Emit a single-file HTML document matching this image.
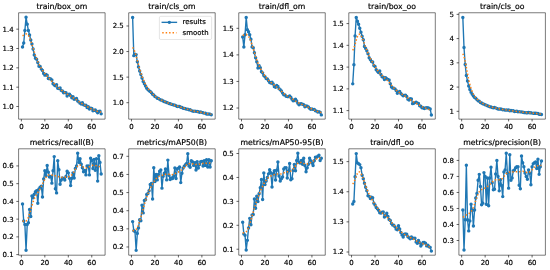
<!DOCTYPE html>
<html lang="en"><head><meta charset="utf-8"><title>results</title>
<style>html,body{margin:0;padding:0;background:#fff;width:550px;height:270px;overflow:hidden}svg{display:block}</style>
</head><body>
<svg width="550" height="270" viewBox="0 0 550 270" style="display:block">
<rect width="550" height="270" fill="#fff"/>
<g font-family="'DejaVu Sans', 'Liberation Sans', sans-serif" fill="#000" text-rendering="geometricPrecision" stroke="#000" stroke-width="0.18" stroke-linejoin="round">
<g>
<polyline points="22.53,47.04 23.71,43.08 24.88,30.52 26.05,17.18 27.23,24.33 28.4,30.52 29.57,34.96 30.75,39.99 31.92,44.05 33.09,49.07 34.27,55.07 35.44,58.16 36.62,59.13 37.79,62.51 38.96,66.24 40.14,66.52 41.31,69.1 42.48,70.45 43.66,73.53 44.83,75.14 46.01,74.51 47.18,75.23 48.35,78.45 49.53,78.41 50.7,78.99 51.87,80.07 53.05,83.71 54.22,85 55.39,85.74 56.57,84.7 57.74,88.27 58.92,88.42 60.09,87.92 61.26,90.38 62.44,90.96 63.61,92.87 64.78,92.47 65.96,92.75 67.13,96.02 68.31,94.5 69.48,94.34 70.65,95.65 71.83,97.67 73,96.67 74.17,99.37 75.35,99.01 76.52,98.38 77.69,101.07 78.87,101.89 80.04,103.15 81.22,104.11 82.39,102.68 83.56,104.74 84.74,105.19 85.91,105.3 87.08,107.54 88.26,106.81 89.43,108.95 90.61,108.14 91.78,108.37 92.95,110.78 94.13,110.31 95.3,109.88 96.47,111.19 97.65,112.73 98.82,111.41 99.99,111.2 101.17,113.87" fill="none" stroke="#1f77b4" stroke-width="1.37" stroke-linejoin="round" stroke-linecap="square"/>
<path d="M22.53,47.04h0M23.71,43.08h0M24.88,30.52h0M26.05,17.18h0M27.23,24.33h0M28.4,30.52h0M29.57,34.96h0M30.75,39.99h0M31.92,44.05h0M33.09,49.07h0M34.27,55.07h0M35.44,58.16h0M36.62,59.13h0M37.79,62.51h0M38.96,66.24h0M40.14,66.52h0M41.31,69.1h0M42.48,70.45h0M43.66,73.53h0M44.83,75.14h0M46.01,74.51h0M47.18,75.23h0M48.35,78.45h0M49.53,78.41h0M50.7,78.99h0M51.87,80.07h0M53.05,83.71h0M54.22,85h0M55.39,85.74h0M56.57,84.7h0M57.74,88.27h0M58.92,88.42h0M60.09,87.92h0M61.26,90.38h0M62.44,90.96h0M63.61,92.87h0M64.78,92.47h0M65.96,92.75h0M67.13,96.02h0M68.31,94.5h0M69.48,94.34h0M70.65,95.65h0M71.83,97.67h0M73,96.67h0M74.17,99.37h0M75.35,99.01h0M76.52,98.38h0M77.69,101.07h0M78.87,101.89h0M80.04,103.15h0M81.22,104.11h0M82.39,102.68h0M83.56,104.74h0M84.74,105.19h0M85.91,105.3h0M87.08,107.54h0M88.26,106.81h0M89.43,108.95h0M90.61,108.14h0M91.78,108.37h0M92.95,110.78h0M94.13,110.31h0M95.3,109.88h0M96.47,111.19h0M97.65,112.73h0M98.82,111.41h0M99.99,111.2h0M101.17,113.87h0" stroke="#1f77b4" stroke-width="3.44" stroke-linecap="round" fill="none"/>
<polyline points="22.53,35.73 23.71,35.17 24.88,34.38 26.05,33.86 27.23,34.11 28.4,35.37 29.57,37.67 30.75,40.79 31.92,44.4 33.09,48.2 34.27,51.92 35.44,55.42 36.62,58.6 37.79,61.46 38.96,64.02 40.14,66.32 41.31,68.38 42.48,70.24 43.66,71.91 44.83,73.43 46.01,74.82 47.18,76.13 48.35,77.4 49.53,78.66 50.7,79.94 51.87,81.22 53.05,82.49 54.22,83.72 55.39,84.9 56.57,86.01 57.74,87.06 58.92,88.06 60.09,89.03 61.26,89.98 62.44,90.89 63.61,91.76 64.78,92.58 65.96,93.35 67.13,94.07 68.31,94.76 69.48,95.44 70.65,96.14 71.83,96.85 73,97.59 74.17,98.35 75.35,99.14 76.52,99.94 77.69,100.76 78.87,101.56 80.04,102.35 81.22,103.1 82.39,103.83 83.56,104.53 84.74,105.22 85.91,105.91 87.08,106.58 88.26,107.24 89.43,107.88 90.61,108.48 91.78,109.05 92.95,109.59 94.13,110.1 95.3,110.57 96.47,111 97.65,111.37 98.82,111.68 99.99,111.9 101.17,112.02" fill="none" stroke="#ff7f0e" stroke-width="1.5" stroke-dasharray="1.45 1.98"/>
<rect x="18.6" y="12.75" width="86.5" height="106.4" fill="none" stroke="#000" stroke-width="0.52"/>
<path d="M21.36,119.15v2.26M44.83,119.15v2.26M68.31,119.15v2.26M91.78,119.15v2.26M18.6,106.49h-2.26M18.6,87.16h-2.26M18.6,67.83h-2.26M18.6,48.49h-2.26M18.6,29.16h-2.26" stroke="#000" stroke-width="0.62" fill="none"/>
<g font-size="6.96">
<text x="21.36" y="129.18" text-anchor="middle">0</text>
<text x="44.83" y="129.18" text-anchor="middle">20</text>
<text x="68.31" y="129.18" text-anchor="middle">40</text>
<text x="91.78" y="129.18" text-anchor="middle">60</text>
<text x="13.6" y="108.96" text-anchor="end">1.0</text>
<text x="13.6" y="89.63" text-anchor="end">1.1</text>
<text x="13.6" y="70.3" text-anchor="end">1.2</text>
<text x="13.6" y="50.97" text-anchor="end">1.3</text>
<text x="13.6" y="31.63" text-anchor="end">1.4</text>
</g>
<text x="61.85" y="8.85" text-anchor="middle" font-size="7.76">train/box_om</text>
</g>
<g>
<polyline points="132.63,17.56 133.81,55.65 134.98,54.11 136.15,54.62 137.33,61.78 138.5,66.9 139.67,70.99 140.85,74.57 142.02,78.05 143.19,81.4 144.37,83.67 145.54,86.05 146.72,88.24 147.89,89.44 149.06,90.84 150.24,91.49 151.41,92.65 152.58,94.18 153.76,95.06 154.93,96.58 156.11,97.12 157.28,98.22 158.45,98.51 159.63,99.36 160.8,99.92 161.97,100.11 163.15,100.98 164.32,101.64 165.49,102.09 166.67,102.47 167.84,102.86 169.02,103.57 170.19,103.7 171.36,104.22 172.54,104.6 173.71,105.09 174.88,105.15 176.06,105.72 177.23,106.45 178.41,106.4 179.58,106.57 180.75,107.34 181.93,107.4 183.1,108.22 184.27,108.37 185.45,108.82 186.62,109.15 187.79,109.21 188.97,109.75 190.14,109.73 191.32,110.39 192.49,111.1 193.66,111.2 194.84,111.13 196.01,111.4 197.18,111.51 198.36,111.77 199.53,112.35 200.71,112.03 201.88,112.38 203.05,112.74 204.23,113.13 205.4,113.22 206.57,113.93 207.75,114.03 208.92,113.99 210.09,114.28 211.27,114.68" fill="none" stroke="#1f77b4" stroke-width="1.37" stroke-linejoin="round" stroke-linecap="square"/>
<path d="M132.63,17.56h0M133.81,55.65h0M134.98,54.11h0M136.15,54.62h0M137.33,61.78h0M138.5,66.9h0M139.67,70.99h0M140.85,74.57h0M142.02,78.05h0M143.19,81.4h0M144.37,83.67h0M145.54,86.05h0M146.72,88.24h0M147.89,89.44h0M149.06,90.84h0M150.24,91.49h0M151.41,92.65h0M152.58,94.18h0M153.76,95.06h0M154.93,96.58h0M156.11,97.12h0M157.28,98.22h0M158.45,98.51h0M159.63,99.36h0M160.8,99.92h0M161.97,100.11h0M163.15,100.98h0M164.32,101.64h0M165.49,102.09h0M166.67,102.47h0M167.84,102.86h0M169.02,103.57h0M170.19,103.7h0M171.36,104.22h0M172.54,104.6h0M173.71,105.09h0M174.88,105.15h0M176.06,105.72h0M177.23,106.45h0M178.41,106.4h0M179.58,106.57h0M180.75,107.34h0M181.93,107.4h0M183.1,108.22h0M184.27,108.37h0M185.45,108.82h0M186.62,109.15h0M187.79,109.21h0M188.97,109.75h0M190.14,109.73h0M191.32,110.39h0M192.49,111.1h0M193.66,111.2h0M194.84,111.13h0M196.01,111.4h0M197.18,111.51h0M198.36,111.77h0M199.53,112.35h0M200.71,112.03h0M201.88,112.38h0M203.05,112.74h0M204.23,113.13h0M205.4,113.22h0M206.57,113.93h0M207.75,114.03h0M208.92,113.99h0M210.09,114.28h0M211.27,114.68h0" stroke="#1f77b4" stroke-width="3.44" stroke-linecap="round" fill="none"/>
<polyline points="132.63,47.32 133.81,49.01 134.98,52.08 136.15,56.06 137.33,60.45 138.5,64.86 139.67,69.05 140.85,72.9 142.02,76.37 143.19,79.46 144.37,82.18 145.54,84.56 146.72,86.62 147.89,88.41 149.06,89.98 150.24,91.38 151.41,92.64 152.58,93.8 153.76,94.88 154.93,95.87 156.11,96.79 157.28,97.62 158.45,98.37 159.63,99.06 160.8,99.7 161.97,100.3 163.15,100.86 164.32,101.4 165.49,101.92 166.67,102.4 167.84,102.87 169.02,103.32 170.19,103.75 171.36,104.16 172.54,104.56 173.71,104.96 174.88,105.34 176.06,105.72 177.23,106.1 178.41,106.47 179.58,106.85 180.75,107.22 181.93,107.6 183.1,107.97 184.27,108.33 185.45,108.68 186.62,109.03 187.79,109.36 188.97,109.69 190.14,110.02 191.32,110.33 192.49,110.63 193.66,110.9 194.84,111.16 196.01,111.39 197.18,111.62 198.36,111.84 199.53,112.07 200.71,112.31 201.88,112.55 203.05,112.81 204.23,113.07 205.4,113.33 206.57,113.57 207.75,113.78 208.92,113.96 210.09,114.08 211.27,114.15" fill="none" stroke="#ff7f0e" stroke-width="1.5" stroke-dasharray="1.45 1.98"/>
<rect x="128.7" y="12.75" width="86.5" height="106.4" fill="none" stroke="#000" stroke-width="0.52"/>
<path d="M131.46,119.15v2.26M154.93,119.15v2.26M178.41,119.15v2.26M201.88,119.15v2.26M128.7,102.69h-2.26M128.7,77.12h-2.26M128.7,51.56h-2.26M128.7,25.99h-2.26" stroke="#000" stroke-width="0.62" fill="none"/>
<g font-size="6.96">
<text x="131.46" y="129.18" text-anchor="middle">0</text>
<text x="154.93" y="129.18" text-anchor="middle">20</text>
<text x="178.41" y="129.18" text-anchor="middle">40</text>
<text x="201.88" y="129.18" text-anchor="middle">60</text>
<text x="123.7" y="105.16" text-anchor="end">1.0</text>
<text x="123.7" y="79.59" text-anchor="end">1.5</text>
<text x="123.7" y="54.03" text-anchor="end">2.0</text>
<text x="123.7" y="28.46" text-anchor="end">2.5</text>
</g>
<text x="171.95" y="8.85" text-anchor="middle" font-size="7.76">train/cls_om</text>
</g>
<g>
<polyline points="242.68,37.09 243.86,46.91 245.03,34.69 246.2,17.59 247.38,29.65 248.55,31.77 249.72,34.69 250.9,39.21 252.07,46.91 253.24,47.71 254.42,52.76 255.59,57.81 256.77,61.68 257.94,67.97 259.11,65.6 260.29,67.71 261.46,71.75 262.63,72.87 263.81,75.61 264.98,76.71 266.16,78.42 267.33,78.88 268.5,80.7 269.68,82.58 270.85,83.03 272.02,82.33 273.2,83.94 274.37,86.63 275.54,87.24 276.72,85.48 277.89,86.37 279.07,88.65 280.24,89.74 281.41,90.98 282.59,93.1 283.76,94.85 284.93,94.85 286.11,96.23 287.28,96.6 288.46,96.52 289.63,95.96 290.8,97.32 291.98,99.24 293.15,100.69 294.32,100.58 295.5,99.13 296.67,100.99 297.84,103.37 299.02,104.67 300.19,103.81 301.37,103.84 302.54,104.19 303.71,104.69 304.89,106.76 306.06,105.98 307.23,106.33 308.41,107.02 309.58,108.36 310.76,109.24 311.93,108.99 313.1,109.4 314.28,109.35 315.45,110.83 316.62,111.12 317.8,112.12 318.97,111.64 320.14,112.23 321.32,114.89" fill="none" stroke="#1f77b4" stroke-width="1.37" stroke-linejoin="round" stroke-linecap="square"/>
<path d="M242.68,37.09h0M243.86,46.91h0M245.03,34.69h0M246.2,17.59h0M247.38,29.65h0M248.55,31.77h0M249.72,34.69h0M250.9,39.21h0M252.07,46.91h0M253.24,47.71h0M254.42,52.76h0M255.59,57.81h0M256.77,61.68h0M257.94,67.97h0M259.11,65.6h0M260.29,67.71h0M261.46,71.75h0M262.63,72.87h0M263.81,75.61h0M264.98,76.71h0M266.16,78.42h0M267.33,78.88h0M268.5,80.7h0M269.68,82.58h0M270.85,83.03h0M272.02,82.33h0M273.2,83.94h0M274.37,86.63h0M275.54,87.24h0M276.72,85.48h0M277.89,86.37h0M279.07,88.65h0M280.24,89.74h0M281.41,90.98h0M282.59,93.1h0M283.76,94.85h0M284.93,94.85h0M286.11,96.23h0M287.28,96.6h0M288.46,96.52h0M289.63,95.96h0M290.8,97.32h0M291.98,99.24h0M293.15,100.69h0M294.32,100.58h0M295.5,99.13h0M296.67,100.99h0M297.84,103.37h0M299.02,104.67h0M300.19,103.81h0M301.37,103.84h0M302.54,104.19h0M303.71,104.69h0M304.89,106.76h0M306.06,105.98h0M307.23,106.33h0M308.41,107.02h0M309.58,108.36h0M310.76,109.24h0M311.93,108.99h0M313.1,109.4h0M314.28,109.35h0M315.45,110.83h0M316.62,111.12h0M317.8,112.12h0M318.97,111.64h0M320.14,112.23h0M321.32,114.89h0" stroke="#1f77b4" stroke-width="3.44" stroke-linecap="round" fill="none"/>
<polyline points="242.68,35.41 243.86,35.09 245.03,34.67 246.2,34.53 247.38,35.01 248.55,36.34 249.72,38.56 250.9,41.52 252.07,45.01 253.24,48.77 254.42,52.58 255.59,56.27 256.77,59.71 257.94,62.85 259.11,65.66 260.29,68.17 261.46,70.42 262.63,72.46 263.81,74.32 264.98,76.01 266.16,77.54 267.33,78.93 268.5,80.19 269.68,81.34 270.85,82.39 272.02,83.37 273.2,84.29 274.37,85.18 275.54,86.06 276.72,86.97 277.89,87.94 279.07,88.98 280.24,90.09 281.41,91.24 282.59,92.37 283.76,93.43 284.93,94.38 286.11,95.23 287.28,95.98 288.46,96.68 289.63,97.35 290.8,98.04 291.98,98.74 293.15,99.46 294.32,100.19 295.5,100.92 296.67,101.64 297.84,102.34 299.02,102.99 300.19,103.59 301.37,104.15 302.54,104.69 303.71,105.21 304.89,105.73 306.06,106.27 307.23,106.83 308.41,107.38 309.58,107.94 310.76,108.48 311.93,109.01 313.1,109.53 314.28,110.06 315.45,110.58 316.62,111.09 317.8,111.58 318.97,112 320.14,112.31 321.32,112.48" fill="none" stroke="#ff7f0e" stroke-width="1.5" stroke-dasharray="1.45 1.98"/>
<rect x="238.75" y="12.75" width="86.5" height="106.4" fill="none" stroke="#000" stroke-width="0.52"/>
<path d="M241.51,119.15v2.26M264.98,119.15v2.26M288.46,119.15v2.26M311.93,119.15v2.26M238.75,108.02h-2.26M238.75,81.45h-2.26M238.75,54.88h-2.26M238.75,28.32h-2.26" stroke="#000" stroke-width="0.62" fill="none"/>
<g font-size="6.96">
<text x="241.51" y="129.18" text-anchor="middle">0</text>
<text x="264.98" y="129.18" text-anchor="middle">20</text>
<text x="288.46" y="129.18" text-anchor="middle">40</text>
<text x="311.93" y="129.18" text-anchor="middle">60</text>
<text x="233.75" y="110.49" text-anchor="end">1.2</text>
<text x="233.75" y="83.92" text-anchor="end">1.3</text>
<text x="233.75" y="57.36" text-anchor="end">1.4</text>
<text x="233.75" y="30.79" text-anchor="end">1.5</text>
</g>
<text x="282" y="8.85" text-anchor="middle" font-size="7.76">train/dfl_om</text>
</g>
<g>
<polyline points="352.73,83.86 353.91,64.71 355.08,35.88 356.25,17.58 357.43,21.19 358.6,24.24 359.77,28.16 360.95,32.29 362.12,36.21 363.29,39.69 364.47,46.43 365.64,48.39 366.82,50.81 367.99,53.64 369.16,57.66 370.34,59.49 371.51,61.54 372.68,61.94 373.86,65.48 375.03,66.57 376.21,69.78 377.38,71.33 378.55,72.57 379.73,71.03 380.9,74.54 382.07,76.82 383.25,77.29 384.42,79.43 385.59,77.67 386.77,78.63 387.94,79.59 389.12,80.05 390.29,83.67 391.46,86.95 392.64,88.01 393.81,88.22 394.98,88.86 396.16,90.45 397.33,93.16 398.51,91.86 399.68,91.46 400.85,93.5 402.03,94.71 403.2,95.73 404.37,95.39 405.55,95.17 406.72,96.45 407.89,99.22 409.07,100.06 410.24,98.73 411.42,99.01 412.59,103.65 413.76,103.27 414.94,102.6 416.11,102.14 417.28,103.06 418.46,103.37 419.63,105.81 420.81,106.31 421.98,107.84 423.15,107.8 424.33,108.41 425.5,108.02 426.67,107.78 427.85,107.78 429.02,108.16 430.19,108.93 431.37,115.04" fill="none" stroke="#1f77b4" stroke-width="1.37" stroke-linejoin="round" stroke-linecap="square"/>
<path d="M352.73,83.86h0M353.91,64.71h0M355.08,35.88h0M356.25,17.58h0M357.43,21.19h0M358.6,24.24h0M359.77,28.16h0M360.95,32.29h0M362.12,36.21h0M363.29,39.69h0M364.47,46.43h0M365.64,48.39h0M366.82,50.81h0M367.99,53.64h0M369.16,57.66h0M370.34,59.49h0M371.51,61.54h0M372.68,61.94h0M373.86,65.48h0M375.03,66.57h0M376.21,69.78h0M377.38,71.33h0M378.55,72.57h0M379.73,71.03h0M380.9,74.54h0M382.07,76.82h0M383.25,77.29h0M384.42,79.43h0M385.59,77.67h0M386.77,78.63h0M387.94,79.59h0M389.12,80.05h0M390.29,83.67h0M391.46,86.95h0M392.64,88.01h0M393.81,88.22h0M394.98,88.86h0M396.16,90.45h0M397.33,93.16h0M398.51,91.86h0M399.68,91.46h0M400.85,93.5h0M402.03,94.71h0M403.2,95.73h0M404.37,95.39h0M405.55,95.17h0M406.72,96.45h0M407.89,99.22h0M409.07,100.06h0M410.24,98.73h0M411.42,99.01h0M412.59,103.65h0M413.76,103.27h0M414.94,102.6h0M416.11,102.14h0M417.28,103.06h0M418.46,103.37h0M419.63,105.81h0M420.81,106.31h0M421.98,107.84h0M423.15,107.8h0M424.33,108.41h0M425.5,108.02h0M426.67,107.78h0M427.85,107.78h0M429.02,108.16h0M430.19,108.93h0M431.37,115.04h0" stroke="#1f77b4" stroke-width="3.44" stroke-linecap="round" fill="none"/>
<polyline points="352.73,50.4 353.91,48.13 355.08,44.31 356.25,40.08 357.43,36.55 358.6,34.48 359.77,34.13 360.95,35.3 362.12,37.59 363.29,40.55 364.47,43.79 365.64,47.06 366.82,50.18 367.99,53.11 369.16,55.81 370.34,58.3 371.51,60.6 372.68,62.74 373.86,64.74 375.03,66.62 376.21,68.37 377.38,70 378.55,71.52 379.73,72.92 380.9,74.23 382.07,75.44 383.25,76.57 384.42,77.64 385.59,78.69 386.77,79.79 387.94,80.99 389.12,82.31 390.29,83.71 391.46,85.15 392.64,86.55 393.81,87.85 394.98,89.04 396.16,90.1 397.33,91.04 398.51,91.9 399.68,92.69 400.85,93.45 402.03,94.2 403.2,94.94 404.37,95.69 405.55,96.47 406.72,97.28 407.89,98.1 409.07,98.93 410.24,99.75 411.42,100.53 412.59,101.26 413.76,101.94 414.94,102.58 416.11,103.21 417.28,103.86 418.46,104.54 419.63,105.24 420.81,105.93 421.98,106.57 423.15,107.13 424.33,107.62 425.5,108.08 426.67,108.53 427.85,108.99 429.02,109.44 430.19,109.81 431.37,110.02" fill="none" stroke="#ff7f0e" stroke-width="1.5" stroke-dasharray="1.45 1.98"/>
<rect x="348.8" y="12.75" width="86.5" height="106.4" fill="none" stroke="#000" stroke-width="0.52"/>
<path d="M351.56,119.15v2.26M375.03,119.15v2.26M398.51,119.15v2.26M421.98,119.15v2.26M348.8,110.62h-2.26M348.8,88.86h-2.26M348.8,67.1h-2.26M348.8,45.34h-2.26M348.8,23.59h-2.26" stroke="#000" stroke-width="0.62" fill="none"/>
<g font-size="6.96">
<text x="351.56" y="129.18" text-anchor="middle">0</text>
<text x="375.03" y="129.18" text-anchor="middle">20</text>
<text x="398.51" y="129.18" text-anchor="middle">40</text>
<text x="421.98" y="129.18" text-anchor="middle">60</text>
<text x="343.8" y="113.09" text-anchor="end">1.1</text>
<text x="343.8" y="91.33" text-anchor="end">1.2</text>
<text x="343.8" y="69.58" text-anchor="end">1.3</text>
<text x="343.8" y="47.82" text-anchor="end">1.4</text>
<text x="343.8" y="26.06" text-anchor="end">1.5</text>
</g>
<text x="392.05" y="8.85" text-anchor="middle" font-size="7.76">train/box_oo</text>
</g>
<g>
<polyline points="462.83,17.59 464.01,47.56 465.18,64.53 466.35,75.44 467.53,81.02 468.7,86.11 469.87,89.5 471.05,92.17 472.22,94.23 473.39,95.99 474.57,97.38 475.74,98.33 476.92,99.6 478.09,100.85 479.26,101.28 480.44,102.48 481.61,103.07 482.78,103.8 483.96,104.15 485.13,104.73 486.31,105.15 487.48,105.78 488.65,106.21 489.83,106.66 491,107.06 492.17,107.45 493.35,107.73 494.52,107.56 495.69,107.85 496.87,108.59 498.04,108.91 499.22,109.02 500.39,108.95 501.56,109.12 502.74,109.78 503.91,109.63 505.08,110.13 506.26,110 507.43,110.1 508.61,110.07 509.78,110.66 510.95,110.51 512.13,110.64 513.3,110.78 514.47,111.49 515.65,111.36 516.82,111.21 517.99,111.69 519.17,111.6 520.34,111.9 521.52,111.89 522.69,112.18 523.86,112.56 525.04,112.65 526.21,112.76 527.38,112.8 528.56,112.5 529.73,112.82 530.91,112.83 532.08,113.1 533.25,113.18 534.43,113.2 535.6,113.25 536.77,113.38 537.95,113.55 539.12,114.17 540.29,114.2 541.47,114.58" fill="none" stroke="#1f77b4" stroke-width="1.37" stroke-linejoin="round" stroke-linecap="square"/>
<path d="M462.83,17.59h0M464.01,47.56h0M465.18,64.53h0M466.35,75.44h0M467.53,81.02h0M468.7,86.11h0M469.87,89.5h0M471.05,92.17h0M472.22,94.23h0M473.39,95.99h0M474.57,97.38h0M475.74,98.33h0M476.92,99.6h0M478.09,100.85h0M479.26,101.28h0M480.44,102.48h0M481.61,103.07h0M482.78,103.8h0M483.96,104.15h0M485.13,104.73h0M486.31,105.15h0M487.48,105.78h0M488.65,106.21h0M489.83,106.66h0M491,107.06h0M492.17,107.45h0M493.35,107.73h0M494.52,107.56h0M495.69,107.85h0M496.87,108.59h0M498.04,108.91h0M499.22,109.02h0M500.39,108.95h0M501.56,109.12h0M502.74,109.78h0M503.91,109.63h0M505.08,110.13h0M506.26,110h0M507.43,110.1h0M508.61,110.07h0M509.78,110.66h0M510.95,110.51h0M512.13,110.64h0M513.3,110.78h0M514.47,111.49h0M515.65,111.36h0M516.82,111.21h0M517.99,111.69h0M519.17,111.6h0M520.34,111.9h0M521.52,111.89h0M522.69,112.18h0M523.86,112.56h0M525.04,112.65h0M526.21,112.76h0M527.38,112.8h0M528.56,112.5h0M529.73,112.82h0M530.91,112.83h0M532.08,113.1h0M533.25,113.18h0M534.43,113.2h0M535.6,113.25h0M536.77,113.38h0M537.95,113.55h0M539.12,114.17h0M540.29,114.2h0M541.47,114.58h0" stroke="#1f77b4" stroke-width="3.44" stroke-linecap="round" fill="none"/>
<polyline points="462.83,53.73 464.01,56.45 465.18,61.32 466.35,67.41 467.53,73.75 468.7,79.61 469.87,84.59 471.05,88.6 472.22,91.74 473.39,94.19 474.57,96.12 475.74,97.69 476.92,99 478.09,100.11 479.26,101.09 480.44,101.95 481.61,102.71 482.78,103.4 483.96,104.02 485.13,104.59 486.31,105.12 487.48,105.6 488.65,106.05 489.83,106.47 491,106.85 492.17,107.19 493.35,107.51 494.52,107.81 495.69,108.09 496.87,108.35 498.04,108.61 499.22,108.85 500.39,109.08 501.56,109.29 502.74,109.48 503.91,109.67 505.08,109.84 506.26,110 507.43,110.15 508.61,110.3 509.78,110.45 510.95,110.61 512.13,110.77 513.3,110.94 514.47,111.1 515.65,111.26 516.82,111.42 517.99,111.57 519.17,111.72 520.34,111.88 521.52,112.04 522.69,112.19 523.86,112.33 525.04,112.46 526.21,112.57 527.38,112.67 528.56,112.76 529.73,112.85 530.91,112.94 532.08,113.04 533.25,113.16 534.43,113.28 535.6,113.42 536.77,113.57 537.95,113.73 539.12,113.87 540.29,113.98 541.47,114.04" fill="none" stroke="#ff7f0e" stroke-width="1.5" stroke-dasharray="1.45 1.98"/>
<rect x="458.9" y="12.75" width="86.5" height="106.4" fill="none" stroke="#000" stroke-width="0.52"/>
<path d="M461.66,119.15v2.26M485.13,119.15v2.26M508.61,119.15v2.26M532.08,119.15v2.26M458.9,111.32h-2.26M458.9,87.08h-2.26M458.9,62.83h-2.26M458.9,38.59h-2.26M458.9,14.35h-2.26" stroke="#000" stroke-width="0.62" fill="none"/>
<g font-size="6.96">
<text x="461.66" y="129.18" text-anchor="middle">0</text>
<text x="485.13" y="129.18" text-anchor="middle">20</text>
<text x="508.61" y="129.18" text-anchor="middle">40</text>
<text x="532.08" y="129.18" text-anchor="middle">60</text>
<text x="453.9" y="113.79" text-anchor="end">1</text>
<text x="453.9" y="89.55" text-anchor="end">2</text>
<text x="453.9" y="65.31" text-anchor="end">3</text>
<text x="453.9" y="41.06" text-anchor="end">4</text>
<text x="453.9" y="16.82" text-anchor="end">5</text>
</g>
<text x="502.15" y="8.85" text-anchor="middle" font-size="7.76">train/cls_oo</text>
</g>
<g>
<polyline points="22.53,204.07 23.71,220.92 24.88,224.46 26.05,250.18 27.23,224.46 28.4,222.69 29.57,209.39 30.75,216.48 31.92,196.08 33.09,197.86 34.27,194.31 35.44,191.65 36.62,190.76 37.79,203.18 38.96,188.99 40.14,187.22 41.31,186.33 42.48,196.97 43.66,179.06 44.83,170.72 46.01,175.69 47.18,165.58 48.35,172.14 49.53,176.93 50.7,176.58 51.87,183.14 53.05,170.72 54.22,156.62 55.39,188.81 56.57,192.89 57.74,160.79 58.92,169.66 60.09,184.2 61.26,180.12 62.44,177.99 63.61,178.35 64.78,180.12 65.96,176.58 67.13,171.25 68.31,172.85 69.48,178.35 70.65,185.62 71.83,178.35 73,172.85 74.17,177.99 75.35,168.59 76.52,165.93 77.69,153.25 78.87,162.39 80.04,158.66 81.22,164.16 82.39,167.71 83.56,171.79 84.74,170.37 85.91,174.89 87.08,165.93 88.26,165.93 89.43,174.89 90.61,158.31 91.78,160.44 92.95,168.59 94.13,159.37 95.3,170.37 96.47,158.66 97.65,181.1 98.82,155.82 99.99,162.39 101.17,173.91" fill="none" stroke="#1f77b4" stroke-width="1.37" stroke-linejoin="round" stroke-linecap="square"/>
<path d="M22.53,204.07h0M23.71,220.92h0M24.88,224.46h0M26.05,250.18h0M27.23,224.46h0M28.4,222.69h0M29.57,209.39h0M30.75,216.48h0M31.92,196.08h0M33.09,197.86h0M34.27,194.31h0M35.44,191.65h0M36.62,190.76h0M37.79,203.18h0M38.96,188.99h0M40.14,187.22h0M41.31,186.33h0M42.48,196.97h0M43.66,179.06h0M44.83,170.72h0M46.01,175.69h0M47.18,165.58h0M48.35,172.14h0M49.53,176.93h0M50.7,176.58h0M51.87,183.14h0M53.05,170.72h0M54.22,156.62h0M55.39,188.81h0M56.57,192.89h0M57.74,160.79h0M58.92,169.66h0M60.09,184.2h0M61.26,180.12h0M62.44,177.99h0M63.61,178.35h0M64.78,180.12h0M65.96,176.58h0M67.13,171.25h0M68.31,172.85h0M69.48,178.35h0M70.65,185.62h0M71.83,178.35h0M73,172.85h0M74.17,177.99h0M75.35,168.59h0M76.52,165.93h0M77.69,153.25h0M78.87,162.39h0M80.04,158.66h0M81.22,164.16h0M82.39,167.71h0M83.56,171.79h0M84.74,170.37h0M85.91,174.89h0M87.08,165.93h0M88.26,165.93h0M89.43,174.89h0M90.61,158.31h0M91.78,160.44h0M92.95,168.59h0M94.13,159.37h0M95.3,170.37h0M96.47,158.66h0M97.65,181.1h0M98.82,155.82h0M99.99,162.39h0M101.17,173.91h0" stroke="#1f77b4" stroke-width="3.44" stroke-linecap="round" fill="none"/>
<polyline points="22.53,221.02 23.71,221.3 24.88,221.5 26.05,221.12 27.23,219.73 28.4,217.2 29.57,213.73 30.75,209.74 31.92,205.71 33.09,202.04 34.27,198.94 35.44,196.43 36.62,194.38 37.79,192.56 38.96,190.74 40.14,188.75 41.31,186.49 42.48,184.02 43.66,181.5 44.83,179.16 46.01,177.23 47.18,175.88 48.35,175.1 49.53,174.8 50.7,174.8 51.87,174.97 53.05,175.22 54.22,175.51 55.39,175.83 56.57,176.16 57.74,176.49 58.92,176.83 60.09,177.14 61.26,177.37 62.44,177.47 63.61,177.43 64.78,177.28 65.96,177.09 67.13,176.92 68.31,176.75 69.48,176.45 70.65,175.87 71.83,174.85 73,173.32 74.17,171.39 75.35,169.29 76.52,167.35 77.69,165.89 78.87,165.1 80.04,165.04 81.22,165.57 82.39,166.41 83.56,167.26 84.74,167.86 85.91,168.07 87.08,167.87 88.26,167.35 89.43,166.68 90.61,166.03 91.78,165.55 92.95,165.31 94.13,165.32 95.3,165.51 96.47,165.81 97.65,166.13 98.82,166.41 99.99,166.63 101.17,166.74" fill="none" stroke="#ff7f0e" stroke-width="1.5" stroke-dasharray="1.45 1.98"/>
<rect x="18.6" y="148.8" width="86.5" height="106.4" fill="none" stroke="#000" stroke-width="0.52"/>
<path d="M21.36,255.2v2.26M44.83,255.2v2.26M68.31,255.2v2.26M91.78,255.2v2.26M18.6,254.61h-2.26M18.6,236.88h-2.26M18.6,219.14h-2.26M18.6,201.41h-2.26M18.6,183.67h-2.26M18.6,165.93h-2.26" stroke="#000" stroke-width="0.62" fill="none"/>
<g font-size="6.96">
<text x="21.36" y="265.23" text-anchor="middle">0</text>
<text x="44.83" y="265.23" text-anchor="middle">20</text>
<text x="68.31" y="265.23" text-anchor="middle">40</text>
<text x="91.78" y="265.23" text-anchor="middle">60</text>
<text x="13.6" y="257.09" text-anchor="end">0.1</text>
<text x="13.6" y="239.35" text-anchor="end">0.2</text>
<text x="13.6" y="221.61" text-anchor="end">0.3</text>
<text x="13.6" y="203.88" text-anchor="end">0.4</text>
<text x="13.6" y="186.14" text-anchor="end">0.5</text>
<text x="13.6" y="168.41" text-anchor="end">0.6</text>
</g>
<text x="61.85" y="144.9" text-anchor="middle" font-size="7.76">metrics/recall(B)</text>
</g>
<g>
<polyline points="132.63,221.6 133.81,230.66 134.98,231.57 136.15,250.36 137.33,233.38 138.5,227.94 139.67,219.78 140.85,220.69 142.02,205.27 143.19,212.89 144.37,200.38 145.54,199.83 146.72,194.39 147.89,193.49 149.06,190.77 150.24,184.42 151.41,183.51 152.58,198.93 153.76,167.73 154.93,181.52 156.11,174.44 157.28,179.88 158.45,174.44 159.63,171.18 160.8,170.09 161.97,188.14 163.15,176.26 164.32,173.17 165.49,169 166.67,179.88 167.84,160.12 169.02,175.35 170.19,179.43 171.36,178.07 172.54,178.43 173.71,176.26 174.88,168.01 176.06,178.43 177.23,169 178.41,168.1 179.58,167.01 180.75,182.6 181.93,173.17 183.1,168.1 184.27,166.28 185.45,164.83 186.62,163.56 187.79,153.64 188.97,165.92 190.14,167.19 191.32,160.75 192.49,161.75 193.66,165.38 194.84,162.66 196.01,170.09 197.18,161.75 198.36,168.1 199.53,164.47 200.71,161.75 201.88,161.39 203.05,165.92 204.23,160.84 205.4,165.38 206.57,159.75 207.75,167.01 208.92,159.75 210.09,167.01 211.27,160.84" fill="none" stroke="#1f77b4" stroke-width="1.37" stroke-linejoin="round" stroke-linecap="square"/>
<path d="M132.63,221.6h0M133.81,230.66h0M134.98,231.57h0M136.15,250.36h0M137.33,233.38h0M138.5,227.94h0M139.67,219.78h0M140.85,220.69h0M142.02,205.27h0M143.19,212.89h0M144.37,200.38h0M145.54,199.83h0M146.72,194.39h0M147.89,193.49h0M149.06,190.77h0M150.24,184.42h0M151.41,183.51h0M152.58,198.93h0M153.76,167.73h0M154.93,181.52h0M156.11,174.44h0M157.28,179.88h0M158.45,174.44h0M159.63,171.18h0M160.8,170.09h0M161.97,188.14h0M163.15,176.26h0M164.32,173.17h0M165.49,169h0M166.67,179.88h0M167.84,160.12h0M169.02,175.35h0M170.19,179.43h0M171.36,178.07h0M172.54,178.43h0M173.71,176.26h0M174.88,168.01h0M176.06,178.43h0M177.23,169h0M178.41,168.1h0M179.58,167.01h0M180.75,182.6h0M181.93,173.17h0M183.1,168.1h0M184.27,166.28h0M185.45,164.83h0M186.62,163.56h0M187.79,153.64h0M188.97,165.92h0M190.14,167.19h0M191.32,160.75h0M192.49,161.75h0M193.66,165.38h0M194.84,162.66h0M196.01,170.09h0M197.18,161.75h0M198.36,168.1h0M199.53,164.47h0M200.71,161.75h0M201.88,161.39h0M203.05,165.92h0M204.23,160.84h0M205.4,165.38h0M206.57,159.75h0M207.75,167.01h0M208.92,159.75h0M210.09,167.01h0M211.27,160.84h0" stroke="#1f77b4" stroke-width="3.44" stroke-linecap="round" fill="none"/>
<polyline points="132.63,230.64 133.81,230.6 134.98,230.28 136.15,229.36 137.33,227.57 138.5,224.82 139.67,221.27 140.85,217.18 142.02,212.87 143.19,208.58 144.37,204.49 145.54,200.7 146.72,197.23 147.89,194.08 149.06,191.24 150.24,188.63 151.41,186.23 152.58,183.99 153.76,181.95 154.93,180.15 156.11,178.65 157.28,177.5 158.45,176.69 159.63,176.14 160.8,175.75 161.97,175.41 163.15,175.02 164.32,174.61 165.49,174.26 166.67,174.07 167.84,174.1 169.02,174.31 170.19,174.56 171.36,174.71 172.54,174.62 173.71,174.28 174.88,173.75 176.06,173.14 177.23,172.55 178.41,171.99 179.58,171.41 180.75,170.68 181.93,169.73 183.1,168.55 184.27,167.22 185.45,165.92 186.62,164.81 187.79,164.03 188.97,163.59 190.14,163.46 191.32,163.56 192.49,163.79 193.66,164.07 194.84,164.32 196.01,164.47 197.18,164.48 198.36,164.37 199.53,164.14 200.71,163.88 201.88,163.62 203.05,163.42 204.23,163.28 205.4,163.21 206.57,163.17 207.75,163.15 208.92,163.13 210.09,163.12 211.27,163.11" fill="none" stroke="#ff7f0e" stroke-width="1.5" stroke-dasharray="1.45 1.98"/>
<rect x="128.7" y="148.8" width="86.5" height="106.4" fill="none" stroke="#000" stroke-width="0.52"/>
<path d="M131.46,255.2v2.26M154.93,255.2v2.26M178.41,255.2v2.26M201.88,255.2v2.26M128.7,246.98h-2.26M128.7,228.85h-2.26M128.7,210.71h-2.26M128.7,192.58h-2.26M128.7,174.44h-2.26M128.7,156.31h-2.26" stroke="#000" stroke-width="0.62" fill="none"/>
<g font-size="6.96">
<text x="131.46" y="265.23" text-anchor="middle">0</text>
<text x="154.93" y="265.23" text-anchor="middle">20</text>
<text x="178.41" y="265.23" text-anchor="middle">40</text>
<text x="201.88" y="265.23" text-anchor="middle">60</text>
<text x="123.7" y="249.46" text-anchor="end">0.2</text>
<text x="123.7" y="231.32" text-anchor="end">0.3</text>
<text x="123.7" y="213.19" text-anchor="end">0.4</text>
<text x="123.7" y="195.05" text-anchor="end">0.5</text>
<text x="123.7" y="176.92" text-anchor="end">0.6</text>
<text x="123.7" y="158.78" text-anchor="end">0.7</text>
</g>
<text x="171.95" y="144.9" text-anchor="middle" font-size="7.76">metrics/mAP50(B)</text>
</g>
<g>
<polyline points="242.68,222.18 243.86,233.91 245.03,235.34 246.2,249.98 247.38,240.37 248.55,227.92 249.72,218.35 250.9,224.81 252.07,215 253.24,214.53 254.42,198.97 255.59,208.3 256.77,196.34 257.94,201.61 259.11,193.71 260.29,187.73 261.46,179.45 262.63,199.57 263.81,172.89 264.98,184.62 266.16,181.03 267.33,177.44 268.5,173.85 269.68,169.78 270.85,172.65 272.02,187.01 273.2,173.85 274.37,170.74 275.54,180.07 276.72,170.26 277.89,162.01 279.07,176 280.24,181.03 281.41,178.64 282.59,176.96 283.76,169.07 284.93,167.63 286.11,167.63 287.28,177.92 288.46,170.74 289.63,163.56 290.8,179.83 291.98,178.64 293.15,170.26 294.32,164.52 295.5,170.74 296.67,160.45 297.84,153.25 299.02,162.37 300.19,163.08 301.37,160.45 302.54,164.28 303.71,158.3 304.89,165.48 306.06,171.7 307.23,167.87 308.41,164.28 309.58,158.3 310.76,160.69 311.93,163.08 313.1,165.48 314.28,160.69 315.45,157.34 316.62,157.34 317.8,156.22 318.97,155.19 320.14,160.45 321.32,158.3" fill="none" stroke="#1f77b4" stroke-width="1.37" stroke-linejoin="round" stroke-linecap="square"/>
<path d="M242.68,222.18h0M243.86,233.91h0M245.03,235.34h0M246.2,249.98h0M247.38,240.37h0M248.55,227.92h0M249.72,218.35h0M250.9,224.81h0M252.07,215h0M253.24,214.53h0M254.42,198.97h0M255.59,208.3h0M256.77,196.34h0M257.94,201.61h0M259.11,193.71h0M260.29,187.73h0M261.46,179.45h0M262.63,199.57h0M263.81,172.89h0M264.98,184.62h0M266.16,181.03h0M267.33,177.44h0M268.5,173.85h0M269.68,169.78h0M270.85,172.65h0M272.02,187.01h0M273.2,173.85h0M274.37,170.74h0M275.54,180.07h0M276.72,170.26h0M277.89,162.01h0M279.07,176h0M280.24,181.03h0M281.41,178.64h0M282.59,176.96h0M283.76,169.07h0M284.93,167.63h0M286.11,167.63h0M287.28,177.92h0M288.46,170.74h0M289.63,163.56h0M290.8,179.83h0M291.98,178.64h0M293.15,170.26h0M294.32,164.52h0M295.5,170.74h0M296.67,160.45h0M297.84,153.25h0M299.02,162.37h0M300.19,163.08h0M301.37,160.45h0M302.54,164.28h0M303.71,158.3h0M304.89,165.48h0M306.06,171.7h0M307.23,167.87h0M308.41,164.28h0M309.58,158.3h0M310.76,160.69h0M311.93,163.08h0M313.1,165.48h0M314.28,160.69h0M315.45,157.34h0M316.62,157.34h0M317.8,156.22h0M318.97,155.19h0M320.14,160.45h0M321.32,158.3h0" stroke="#1f77b4" stroke-width="3.44" stroke-linecap="round" fill="none"/>
<polyline points="242.68,232.88 243.86,232.87 245.03,232.61 246.2,231.78 247.38,230.1 248.55,227.51 249.72,224.15 250.9,220.28 252.07,216.19 253.24,212.08 254.42,208.1 255.59,204.32 256.77,200.75 257.94,197.39 259.11,194.24 260.29,191.32 261.46,188.63 262.63,186.18 263.81,183.94 264.98,181.92 266.16,180.14 267.33,178.64 268.5,177.45 269.68,176.58 270.85,175.95 272.02,175.46 273.2,175.01 274.37,174.59 275.54,174.22 276.72,173.98 277.89,173.9 279.07,173.91 280.24,173.89 281.41,173.72 282.59,173.37 283.76,172.89 284.93,172.42 286.11,172.06 287.28,171.84 288.46,171.71 289.63,171.52 290.8,171.08 291.98,170.29 293.15,169.1 294.32,167.61 295.5,166.01 296.67,164.53 297.84,163.38 299.02,162.68 300.19,162.44 301.37,162.58 302.54,162.98 303.71,163.47 304.89,163.88 306.06,164.08 307.23,164.01 308.41,163.67 309.58,163.14 310.76,162.48 311.93,161.77 313.1,161.01 314.28,160.25 315.45,159.54 316.62,158.92 317.8,158.46 318.97,158.18 320.14,158.04 321.32,157.99" fill="none" stroke="#ff7f0e" stroke-width="1.5" stroke-dasharray="1.45 1.98"/>
<rect x="238.75" y="148.8" width="86.5" height="106.4" fill="none" stroke="#000" stroke-width="0.52"/>
<path d="M241.51,255.2v2.26M264.98,255.2v2.26M288.46,255.2v2.26M311.93,255.2v2.26M238.75,249.22h-2.26M238.75,225.29h-2.26M238.75,201.37h-2.26M238.75,177.44h-2.26M238.75,153.51h-2.26" stroke="#000" stroke-width="0.62" fill="none"/>
<g font-size="6.96">
<text x="241.51" y="265.23" text-anchor="middle">0</text>
<text x="264.98" y="265.23" text-anchor="middle">20</text>
<text x="288.46" y="265.23" text-anchor="middle">40</text>
<text x="311.93" y="265.23" text-anchor="middle">60</text>
<text x="233.75" y="251.69" text-anchor="end">0.1</text>
<text x="233.75" y="227.76" text-anchor="end">0.2</text>
<text x="233.75" y="203.84" text-anchor="end">0.3</text>
<text x="233.75" y="179.91" text-anchor="end">0.4</text>
<text x="233.75" y="155.99" text-anchor="end">0.5</text>
</g>
<text x="282" y="144.9" text-anchor="middle" font-size="7.76">metrics/mAP50-95(B)</text>
</g>
<g>
<polyline points="352.73,203.94 353.91,201.38 355.08,176.67 356.25,153.62 357.43,162.9 358.6,163.72 359.77,164.62 360.95,167.63 362.12,175.32 363.29,178.78 364.47,183.3 365.64,187.22 366.82,190.65 367.99,195.75 369.16,196.37 370.34,198.6 371.51,197.32 372.68,197.7 373.86,203.16 375.03,204.96 376.21,207.55 377.38,208.71 378.55,210.34 379.73,212.78 380.9,213.13 382.07,212.23 383.25,211.9 384.42,217.06 385.59,215.27 386.77,213.3 387.94,216.57 389.12,219.5 390.29,220.4 391.46,223.56 392.64,225.04 393.81,225.14 394.98,226.87 396.16,229.14 397.33,229.77 398.51,225.7 399.68,228.99 400.85,232.52 402.03,234.9 403.2,236.92 404.37,234.1 405.55,233.98 406.72,234.32 407.89,236.66 409.07,237.79 410.24,238.75 411.42,237.08 412.59,238.34 413.76,238.32 414.94,238.13 416.11,242.12 417.28,243.35 418.46,240.4 419.63,242.64 420.81,246.11 421.98,244.22 423.15,242.53 424.33,242.53 425.5,243.27 426.67,245.89 427.85,245.22 429.02,246.8 430.19,247.35 431.37,251.1" fill="none" stroke="#1f77b4" stroke-width="1.37" stroke-linejoin="round" stroke-linecap="square"/>
<path d="M352.73,203.94h0M353.91,201.38h0M355.08,176.67h0M356.25,153.62h0M357.43,162.9h0M358.6,163.72h0M359.77,164.62h0M360.95,167.63h0M362.12,175.32h0M363.29,178.78h0M364.47,183.3h0M365.64,187.22h0M366.82,190.65h0M367.99,195.75h0M369.16,196.37h0M370.34,198.6h0M371.51,197.32h0M372.68,197.7h0M373.86,203.16h0M375.03,204.96h0M376.21,207.55h0M377.38,208.71h0M378.55,210.34h0M379.73,212.78h0M380.9,213.13h0M382.07,212.23h0M383.25,211.9h0M384.42,217.06h0M385.59,215.27h0M386.77,213.3h0M387.94,216.57h0M389.12,219.5h0M390.29,220.4h0M391.46,223.56h0M392.64,225.04h0M393.81,225.14h0M394.98,226.87h0M396.16,229.14h0M397.33,229.77h0M398.51,225.7h0M399.68,228.99h0M400.85,232.52h0M402.03,234.9h0M403.2,236.92h0M404.37,234.1h0M405.55,233.98h0M406.72,234.32h0M407.89,236.66h0M409.07,237.79h0M410.24,238.75h0M411.42,237.08h0M412.59,238.34h0M413.76,238.32h0M414.94,238.13h0M416.11,242.12h0M417.28,243.35h0M418.46,240.4h0M419.63,242.64h0M420.81,246.11h0M421.98,244.22h0M423.15,242.53h0M424.33,242.53h0M425.5,243.27h0M426.67,245.89h0M427.85,245.22h0M429.02,246.8h0M430.19,247.35h0M431.37,251.1h0" stroke="#1f77b4" stroke-width="3.44" stroke-linecap="round" fill="none"/>
<polyline points="352.73,184.05 353.91,182.28 355.08,179.3 356.25,176.02 357.43,173.32 358.6,171.86 359.77,171.88 360.95,173.3 362.12,175.78 363.29,178.92 364.47,182.34 365.64,185.76 366.82,188.96 367.99,191.83 369.16,194.37 370.34,196.62 371.51,198.67 372.68,200.63 373.86,202.54 375.03,204.42 376.21,206.22 377.38,207.89 378.55,209.39 379.73,210.69 380.9,211.81 382.07,212.8 383.25,213.71 384.42,214.63 385.59,215.62 386.77,216.73 387.94,217.98 389.12,219.37 390.29,220.84 391.46,222.32 392.64,223.75 393.81,225.08 394.98,226.3 396.16,227.42 397.33,228.49 398.51,229.56 399.68,230.63 400.85,231.69 402.03,232.69 403.2,233.59 404.37,234.37 405.55,235.07 406.72,235.69 407.89,236.29 409.07,236.86 410.24,237.44 411.42,238.02 412.59,238.63 413.76,239.27 414.94,239.96 416.11,240.67 417.28,241.37 418.46,242.01 419.63,242.57 420.81,243.03 421.98,243.43 423.15,243.81 424.33,244.24 425.5,244.74 426.67,245.34 427.85,245.99 429.02,246.61 430.19,247.1 431.37,247.38" fill="none" stroke="#ff7f0e" stroke-width="1.5" stroke-dasharray="1.45 1.98"/>
<rect x="348.8" y="148.8" width="86.5" height="106.4" fill="none" stroke="#000" stroke-width="0.52"/>
<path d="M351.56,255.2v2.26M375.03,255.2v2.26M398.51,255.2v2.26M421.98,255.2v2.26M348.8,252.01h-2.26M348.8,221.87h-2.26M348.8,191.74h-2.26M348.8,161.61h-2.26" stroke="#000" stroke-width="0.62" fill="none"/>
<g font-size="6.96">
<text x="351.56" y="265.23" text-anchor="middle">0</text>
<text x="375.03" y="265.23" text-anchor="middle">20</text>
<text x="398.51" y="265.23" text-anchor="middle">40</text>
<text x="421.98" y="265.23" text-anchor="middle">60</text>
<text x="343.8" y="254.48" text-anchor="end">1.2</text>
<text x="343.8" y="224.35" text-anchor="end">1.3</text>
<text x="343.8" y="194.21" text-anchor="end">1.4</text>
<text x="343.8" y="164.08" text-anchor="end">1.5</text>
</g>
<text x="392.05" y="144.9" text-anchor="middle" font-size="7.76">train/dfl_oo</text>
</g>
<g>
<polyline points="462.83,210.07 464.01,249.98 465.18,219.68 466.35,165.23 467.53,219.68 468.7,230.89 469.87,220.88 471.05,204.31 472.22,210.07 473.39,226.09 474.57,210.07 475.74,198.06 476.92,193.58 478.09,180.28 479.26,174.36 480.44,186.53 481.61,204.71 482.78,203.25 483.96,172.6 485.13,176.44 486.31,204.31 487.48,178.04 488.65,205.75 489.83,178.04 491,167.15 492.17,182.85 493.35,189.73 494.52,189.25 495.69,174.04 496.87,160.43 498.04,176.44 499.22,190.85 500.39,179.64 501.56,185.41 502.74,196.62 503.91,171.96 505.08,169.88 506.26,153.25 507.43,173.24 508.61,188.13 509.78,154.66 510.95,180.28 512.13,178.04 513.3,170.84 514.47,170.04 515.65,167.79 516.82,166.83 517.99,166.83 519.17,185.25 520.34,188.77 521.52,155.94 522.69,162.67 523.86,166.83 525.04,172.92 526.21,176.44 527.38,179.16 528.56,169.88 529.73,173.24 530.91,184.77 532.08,166.83 533.25,163.63 534.43,162.83 535.6,162.03 536.77,168.43 537.95,159.15 539.12,174.36 540.29,166.83 541.47,160.91" fill="none" stroke="#1f77b4" stroke-width="1.37" stroke-linejoin="round" stroke-linecap="square"/>
<path d="M462.83,210.07h0M464.01,249.98h0M465.18,219.68h0M466.35,165.23h0M467.53,219.68h0M468.7,230.89h0M469.87,220.88h0M471.05,204.31h0M472.22,210.07h0M473.39,226.09h0M474.57,210.07h0M475.74,198.06h0M476.92,193.58h0M478.09,180.28h0M479.26,174.36h0M480.44,186.53h0M481.61,204.71h0M482.78,203.25h0M483.96,172.6h0M485.13,176.44h0M486.31,204.31h0M487.48,178.04h0M488.65,205.75h0M489.83,178.04h0M491,167.15h0M492.17,182.85h0M493.35,189.73h0M494.52,189.25h0M495.69,174.04h0M496.87,160.43h0M498.04,176.44h0M499.22,190.85h0M500.39,179.64h0M501.56,185.41h0M502.74,196.62h0M503.91,171.96h0M505.08,169.88h0M506.26,153.25h0M507.43,173.24h0M508.61,188.13h0M509.78,154.66h0M510.95,180.28h0M512.13,178.04h0M513.3,170.84h0M514.47,170.04h0M515.65,167.79h0M516.82,166.83h0M517.99,166.83h0M519.17,185.25h0M520.34,188.77h0M521.52,155.94h0M522.69,162.67h0M523.86,166.83h0M525.04,172.92h0M526.21,176.44h0M527.38,179.16h0M528.56,169.88h0M529.73,173.24h0M530.91,184.77h0M532.08,166.83h0M533.25,163.63h0M534.43,162.83h0M535.6,162.03h0M536.77,168.43h0M537.95,159.15h0M539.12,174.36h0M540.29,166.83h0M541.47,160.91h0" stroke="#1f77b4" stroke-width="3.44" stroke-linecap="round" fill="none"/>
<polyline points="462.83,217.23 464.01,216.68 465.18,215.81 466.35,214.92 467.53,214.21 468.7,213.64 469.87,212.96 471.05,211.84 472.22,210.01 473.39,207.36 474.57,204.02 475.74,200.35 476.92,196.81 478.09,193.84 479.26,191.68 480.44,190.31 481.61,189.52 482.78,189.01 483.96,188.57 485.13,188.05 486.31,187.38 487.48,186.53 488.65,185.52 489.83,184.39 491,183.22 492.17,182.1 493.35,181.09 494.52,180.28 495.69,179.75 496.87,179.54 498.04,179.62 499.22,179.78 500.39,179.72 501.56,179.17 502.74,178.06 503.91,176.55 505.08,174.96 506.26,173.62 507.43,172.73 508.61,172.27 509.78,172.11 510.95,172.06 512.13,171.99 513.3,171.87 514.47,171.75 515.65,171.72 516.82,171.76 517.99,171.8 519.17,171.75 520.34,171.58 521.52,171.37 522.69,171.28 523.86,171.42 525.04,171.8 526.21,172.27 527.38,172.59 528.56,172.55 529.73,172.03 530.91,171.08 532.08,169.82 533.25,168.5 534.43,167.33 535.6,166.45 536.77,165.91 537.95,165.63 539.12,165.51 540.29,165.47 541.47,165.46" fill="none" stroke="#ff7f0e" stroke-width="1.5" stroke-dasharray="1.45 1.98"/>
<rect x="458.9" y="148.8" width="86.5" height="106.4" fill="none" stroke="#000" stroke-width="0.52"/>
<path d="M461.66,255.2v2.26M485.13,255.2v2.26M508.61,255.2v2.26M532.08,255.2v2.26M458.9,240.5h-2.26M458.9,224.48h-2.26M458.9,208.47h-2.26M458.9,192.46h-2.26M458.9,176.44h-2.26M458.9,160.43h-2.26" stroke="#000" stroke-width="0.62" fill="none"/>
<g font-size="6.96">
<text x="461.66" y="265.23" text-anchor="middle">0</text>
<text x="485.13" y="265.23" text-anchor="middle">20</text>
<text x="508.61" y="265.23" text-anchor="middle">40</text>
<text x="532.08" y="265.23" text-anchor="middle">60</text>
<text x="453.9" y="242.97" text-anchor="end">0.3</text>
<text x="453.9" y="226.96" text-anchor="end">0.4</text>
<text x="453.9" y="210.94" text-anchor="end">0.5</text>
<text x="453.9" y="194.93" text-anchor="end">0.6</text>
<text x="453.9" y="178.91" text-anchor="end">0.7</text>
<text x="453.9" y="162.9" text-anchor="end">0.8</text>
</g>
<text x="502.15" y="144.9" text-anchor="middle" font-size="7.76">metrics/precision(B)</text>
</g>
<g font-size="6.96">
<rect x="159.39" y="16.31" width="52.25" height="23.22" rx="1.42" fill="#fff" fill-opacity="0.8" stroke="#ccc" stroke-opacity="0.8" stroke-width="0.65"/>
<path d="M162.24,22.35H176.46" stroke="#1f77b4" stroke-width="1.37" stroke-linecap="square"/>
<path d="M169.35,22.35h0" stroke="#1f77b4" stroke-width="3.44" stroke-linecap="round"/>
<path d="M162.24,32.8H176.46" stroke="#ff7f0e" stroke-width="1.5" stroke-dasharray="1.45 1.98"/>
<text x="182.57" y="24.34">results</text>
<text x="182.57" y="34.88">smooth</text>
</g>
</g></svg>
</body></html>
